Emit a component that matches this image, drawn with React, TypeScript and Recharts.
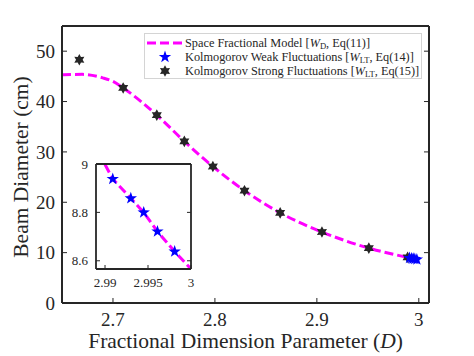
import { ComposedChart, Line, Scatter, XAxis, YAxis, Legend, Label, CartesianGrid } from 'recharts';

// values
const modelD = [2.65, 2.67, 2.69, 2.7, 2.71, 2.743, 2.77, 2.798, 2.829, 2.864, 2.905, 2.951, 2.989, 3.0];
const modelW = [45.3, 45.4, 44.7, 44.0, 42.7, 37.3, 32.1, 27.1, 22.3, 17.9, 14.1, 10.9, 9.05, 8.57];
const strongD = [2.667, 2.71, 2.743, 2.77, 2.798, 2.829, 2.864, 2.905, 2.951, 2.989];
const strongW = [48.3, 42.7, 37.3, 32.1, 27.1, 22.3, 17.9, 14.1, 10.9, 9.07];
const weakD = [2.9909, 2.993, 2.9945, 2.9961, 2.9981];
const weakW = [8.938, 8.858, 8.8, 8.721, 8.638];
const insetD = [2.99, 2.9909, 2.993, 2.9945, 2.9961, 2.9981, 3.0];
const insetW = [8.998, 8.938, 8.858, 8.8, 8.721, 8.638, 8.566];

const mainXTicks = [2.7, 2.8, 2.9, 3];
const mainYTicks = [0, 10, 20, 30, 40, 50];
const insetXTicks = [2.99, 2.995, 3];
const insetYTicks = [8.6, 8.8, 9];

const zip = (xs: number[], ys: number[]) => xs.map((d, i) => ({ d, w: ys[i] }));
const modelData = zip(modelD, modelW);
const strongData = zip(strongD, strongW);
const weakData = zip(weakD, weakW);
const insetData = zip(insetD, insetW);

const INK = '#262626';
const MAGENTA = '#ff00ff';
const BLUE = '#0000ff';
const FONT = '"Liberation Serif", serif';
const THIN = 0.001; // axes need a non-zero size to be drawn

function starPoints(cx: number, cy: number, n: number, R: number, r: number) {
  const pts: string[] = [];
  for (let i = 0; i < 2 * n; i++) {
    const a = -Math.PI / 2 + (i * Math.PI) / n;
    const rad = i % 2 === 0 ? R : r;
    pts.push(`${cx + rad * Math.cos(a)},${cy + rad * Math.sin(a)}`);
  }
  return pts.join(' ');
}

const Pentagram = (p: any) => <polygon points={starPoints(p.cx, p.cy, 5, 6.5, 2.6)} fill={BLUE} />;
const Hexagram = (p: any) => <polygon points={starPoints(p.cx, p.cy, 6, 5.8, 3.3)} fill={INK} />;

const legendRow = { display: 'flex', alignItems: 'center', height: 14 } as const;
const subStyle = { fontSize: '0.7em', position: 'relative', top: 2 } as const;

const LegendBox = () => (
  <div
    style={{
      width: 278,
      height: 46,
      boxSizing: 'border-box',
      border: '1px solid #d4d4d4',
      background: '#fff',
      fontFamily: FONT,
      fontSize: 12.3,
      color: INK,
      paddingTop: 2,
      lineHeight: '14px',
      whiteSpace: 'nowrap',
    }}
  >
    <div style={legendRow}>
      <svg width={40} height={14}>
        <line x1={2} x2={39} y1={7} y2={7} stroke={MAGENTA} strokeWidth={3} strokeDasharray="9 4" />
      </svg>
      <span>
        Space Fractional Model [<i>W</i>
        <span style={subStyle}>D</span>, Eq(11)]
      </span>
    </div>
    <div style={legendRow}>
      <svg width={40} height={14}>
        <Pentagram cx={20} cy={7} />
      </svg>
      <span>
        Kolmogorov Weak Fluctuations [<i>W</i>
        <span style={subStyle}>LT</span>, Eq(14)]
      </span>
    </div>
    <div style={legendRow}>
      <svg width={40} height={14}>
        <Hexagram cx={20} cy={7} />
      </svg>
      <span>
        Kolmogorov Strong Fluctuations [<i>W</i>
        <span style={subStyle}>LT</span>, Eq(15)]
      </span>
    </div>
  </div>
);

const mainTick = { fill: INK, fontSize: 19, fontFamily: FONT };
const insetTick = { fill: INK, fontSize: 13, fontFamily: FONT };
const noLabel = () => '';

export default function App() {
  return (
    <div style={{ position: 'relative', width: 474, height: 356, background: '#fff' }}>
      <style>{'body{margin:0}'}</style>
      <ComposedChart width={474} height={356} margin={{ top: 26, right: 45, bottom: 53, left: 62 }}>
        <XAxis
          type="number"
          dataKey="d"
          domain={[2.65, 3.01]}
          ticks={mainXTicks}
          height={THIN}
          stroke={INK}
          axisLine={{ strokeWidth: 2 }}
          tickSize={-5}
          tickMargin={15}
          tick={mainTick}
          allowDataOverflow
        >
          <Label
            content={() => (
              <text x={245.5} y={348} textAnchor="middle" fill={INK} fontSize={21.5} fontFamily={FONT}>
                Fractional Dimension Parameter (<tspan fontStyle="italic">D</tspan>)
              </text>
            )}
          />
        </XAxis>
        <XAxis
          xAxisId="top"
          orientation="top"
          type="number"
          domain={[2.65, 3.01]}
          ticks={mainXTicks}
          height={THIN}
          stroke={INK}
          axisLine={{ strokeWidth: 2 }}
          tickSize={-5}
          tickFormatter={noLabel}
          allowDataOverflow
        />
        <YAxis
          type="number"
          dataKey="w"
          domain={[0, 55]}
          ticks={mainYTicks}
          width={THIN}
          stroke={INK}
          axisLine={{ strokeWidth: 2 }}
          tickSize={-5}
          tickMargin={12}
          tick={mainTick}
          allowDataOverflow
        >
          <Label
            content={() => (
              <text
                x={21}
                y={167}
                transform="rotate(-90 21 167)"
                textAnchor="middle"
                dominantBaseline="central"
                fill={INK}
                fontSize={21.5}
                fontFamily={FONT}
              >
                Beam Diameter (cm)
              </text>
            )}
          />
        </YAxis>
        <YAxis
          yAxisId="right"
          orientation="right"
          type="number"
          domain={[0, 55]}
          ticks={mainYTicks}
          width={THIN}
          stroke={INK}
          axisLine={{ strokeWidth: 2 }}
          tickSize={-5}
          tickFormatter={noLabel}
          allowDataOverflow
        />
        <Line
          data={modelData}
          dataKey="w"
          type="monotone"
          stroke={MAGENTA}
          strokeWidth={3}
          strokeDasharray="9 4"
          dot={false}
          isAnimationActive={false}
        />
        <Scatter data={strongData} dataKey="w" shape={Hexagram} isAnimationActive={false} />
        <Scatter data={weakData} dataKey="w" shape={Pentagram} isAnimationActive={false} />
        <Legend
          layout="vertical"
          align="center"
          verticalAlign="middle"
          content={() => <LegendBox />}
          wrapperStyle={{ left: 144, top: 33, width: 278, height: 46 }}
        />
      </ComposedChart>

      <div style={{ position: 'absolute', left: 60, top: 150 }}>
        <ComposedChart width={140} height={140} margin={{ top: 14, right: 9, bottom: 21, left: 36 }}>
          <CartesianGrid horizontal={false} vertical={false} fill="#fff" />
          <XAxis
            type="number"
            dataKey="d"
            domain={[2.98895, 3]}
            ticks={insetXTicks}
            height={THIN}
            stroke={INK}
            axisLine={{ strokeWidth: 1.8 }}
            tickSize={-4}
            tickMargin={13}
            tick={insetTick}
            allowDataOverflow
          />
          <XAxis
            xAxisId="top"
            orientation="top"
            type="number"
            domain={[2.98895, 3]}
            ticks={insetXTicks}
            height={THIN}
            stroke={INK}
            axisLine={{ strokeWidth: 1.8 }}
            tickSize={-4}
            tickFormatter={noLabel}
            allowDataOverflow
          />
          <YAxis
            type="number"
            dataKey="w"
            domain={[8.566, 9]}
            ticks={insetYTicks}
            width={THIN}
            stroke={INK}
            axisLine={{ strokeWidth: 1.8 }}
            tickSize={-4}
            tickMargin={12}
            tick={insetTick}
            allowDataOverflow
          />
          <YAxis
            yAxisId="right"
            orientation="right"
            type="number"
            domain={[8.566, 9]}
            ticks={insetYTicks}
            width={THIN}
            stroke={INK}
            axisLine={{ strokeWidth: 1.8 }}
            tickSize={-4}
            tickFormatter={noLabel}
            allowDataOverflow
          />
          <Line
            data={insetData}
            dataKey="w"
            type="linear"
            stroke={MAGENTA}
            strokeWidth={3}
            strokeDasharray="9 4"
            dot={false}
            isAnimationActive={false}
          />
          <Scatter data={weakData} dataKey="w" shape={Pentagram} isAnimationActive={false} />
        </ComposedChart>
      </div>
    </div>
  );
}
